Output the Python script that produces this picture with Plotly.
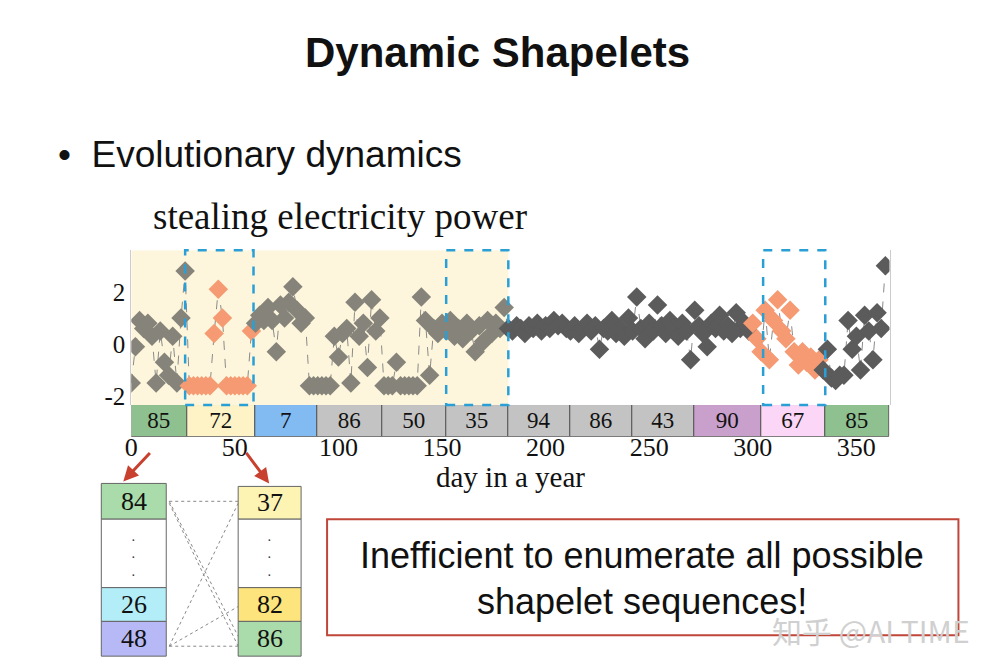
import plotly.graph_objects as go

W, H = 997, 672

# time series segments (day step 2)
olive_a_days = list(range(0, 28, 2))
olive_a = [-1.5, -0.1, 0.9, 0.6, 0.8, 0.3, -1.5, 0.5, -0.7, -1.2, 0.3, -1.5, 1.0, 2.8]
orange_a_days = list(range(28, 60, 2))
orange_a = [-1.6, -1.6, -1.6, -1.6, -1.6, -1.6, 0.4, 2.1, 1.0, -1.6, -1.6, -1.6, -1.6, -1.6, -1.6, 0.5]
olive_b_days = list(range(60, 182, 2))
olive_b = [0.8, 1.1, 0.9, 1.4, 0.9, -0.3, 1.5, 1.0, 1.6, 2.2, 1.3, 0.8, 1.0, -1.6, -1.6, -1.6,
           -1.6, -1.6, -1.6, 0.3, -0.5, 0.4, 0.6, -1.5, 1.6, 0.3, 0.8, -0.9, 1.7, 0.5, 1.0, -1.6,
           -1.6, -1.6, -0.7, -1.6, -1.6, -1.6, -1.6, -1.6, 1.8, 0.9, -1.2, 0.6, 0.4, 0.8,
           0.5, 0.9, 0.3, 0.6, 0.2, 0.8, 0.5, -0.3, 0.7, 0.1, 0.9, 0.4, 0.8, 0.6, 1.4]
dark_a_days = list(range(182, 300, 2))
dark_a = [0.6, 0.5, 0.7, 0.6, 0.4, 0.7, 0.6, 0.8, 0.5, 0.7, 0.6, 0.9, 0.7, 0.8, 0.6, 0.5,
          0.7, 0.4, 0.6, 0.8, 0.5, 0.7, -0.2, 0.6, 0.5, 0.9, 0.4, 0.6, 0.3, 1.0, 0.5, 1.8,
          0.6, 0.2, 0.8, 0.5, 1.5, 0.7, 0.4, 0.9, 0.6, 0.3, 0.8, 0.5, -0.6, 1.3, 0.7, 0.4,
          -0.1, 0.8, 0.6, 1.1, 0.5, 0.7, 0.4, 1.2, 0.6, 0.8, 0.5]
orange_b_days = list(range(300, 334, 2))
orange_b = [0.8, 0.2, -0.3, 1.3, -0.6, 0.9, 1.7, 0.5, 0.2, 1.3, -0.3, -0.8, -0.3, -0.7, -0.5, -1.0, -0.6]
dark_b_days = list(range(334, 366, 2))
dark_b = [-1.0, -0.2, -1.3, -1.4, -1.2, -1.2, 0.9, -0.2, 0.3, -1.0, 1.1, 0.5, -0.6, 1.2, 0.6, 3.0]

# shapelet strip
seg_edges = [0, 27, 60, 90, 121, 152, 182, 212, 242, 272, 304, 335, 366]
seg_labels = ["85", "72", "7", "86", "50", "35", "94", "86", "43", "90", "67", "85"]
seg_colors = ["#8fc08f", "#fdf3c6", "#82baf2", "#c3c3c3", "#c3c3c3", "#c3c3c3", "#c3c3c3",
              "#c3c3c3", "#c3c3c3", "#c9a0cb", "#fbd6f6", "#8fc08f"]
boxes = [(26, 59), (152, 182), (305, 335)]

x_ticks = [0, 50, 100, 150, 200, 250, 300, 350]
y_ticks = [-2, 0, 2]
y_tick_text = ["-2", "0", "2"]

left_vals = ["84", "26", "48"]
left_cols = ["#a9dcaa", "#b3eef8", "#b6b9f6"]
right_vals = ["37", "82", "86"]
right_cols = ["#fdf4b4", "#fde47c", "#a9dcaa"]


# target pixel -> paper, corrected for the page offset seen in the render
def px(x):
    return (x - 13.6) / 0.994 / W


def py(y):
    return 1 - (y - 5) / H


serif = "Liberation Serif"
sans = "Liberation Sans"

groups = [(olive_a_days, olive_a, "#86847a"), (orange_a_days, orange_a, "#f59a72"),
          (olive_b_days, olive_b, "#86847a"), (dark_a_days, dark_a, "#5b5b5b"),
          (orange_b_days, orange_b, "#f59a72"), (dark_b_days, dark_b, "#5b5b5b")]
all_x, all_y, all_c = [], [], []
for d, v, c in groups:
    all_x += d
    all_y += v
    all_c += [c] * len(d)

fig = go.Figure()
fig.add_trace(go.Scatter(x=all_x, y=all_y, mode="lines+markers",
                         line=dict(color="#8a8a8a", width=1, dash="dash"),
                         marker=dict(symbol="diamond", size=15, color=all_c),
                         showlegend=False))

centers = [(seg_edges[i] + seg_edges[i + 1]) / 2 for i in range(len(seg_labels))]
widths = [seg_edges[i + 1] - seg_edges[i] for i in range(len(seg_labels))]
fig.add_trace(go.Bar(x=centers, y=[1] * len(centers), width=widths,
                     marker=dict(color=seg_colors, line=dict(color="#555", width=1)),
                     text=seg_labels, textposition="inside", insidetextanchor="middle",
                     textfont=dict(family=serif, size=23, color="#111"),
                     yaxis="y2", showlegend=False))

shapes = [dict(type="rect", xref="x", yref="y", x0=0, x1=182, y0=-2.34, y1=3.6,
               fillcolor="#fdf6dc", line_width=0, layer="below")]
for a, b in boxes:
    shapes.append(dict(type="rect", xref="x", yref="paper", x0=a, x1=b, y0=py(405), y1=py(249),
                       line=dict(color="#2a9fd6", width=2.5, dash="dash")))


def label(x, y, t, family, size, color, xanchor="center"):
    fig.add_annotation(x=px(x), y=py(y), xref="paper", yref="paper", text=t, showarrow=False,
                       xanchor=xanchor, yanchor="middle", font=dict(family=family, size=size, color=color))


# left/right columns
def col(x0, x1, vals, cols, top):
    rows = [(top, 520, vals[0], cols[0]), (520, 589, None, "white"),
            (589, 623, vals[1], cols[1]), (623, 658, vals[2], cols[2])]
    for y0, y1, t, c in rows:
        shapes.append(dict(type="rect", xref="paper", yref="paper", x0=px(x0), x1=px(x1),
                           y0=py(y1), y1=py(y0), fillcolor=c, line=dict(color="#666", width=1)))
        if t:
            label((x0 + x1) / 2, (y0 + y1) / 2, t, serif, 26, "#111")
        else:
            for yy in (541, 559, 577):
                label((x0 + x1) / 2, yy, "·", serif, 14, "#333")


col(100, 165, left_vals, left_cols, 484)
col(237, 300, right_vals, right_cols, 487)

for (x0, y0), (x1, y1) in [((168, 502), (237, 502)), ((168, 502), (237, 638)), ((168, 504), (237, 648)),
                           ((168, 648), (237, 504)), ((168, 648), (237, 608)), ((168, 648), (237, 648))]:
    shapes.append(dict(type="line", xref="paper", yref="paper", x0=px(x0), y0=py(y0), x1=px(x1), y1=py(y1),
                       line=dict(color="#888", width=1, dash="dot")))

shapes.append(dict(type="rect", xref="paper", yref="paper", x0=px(326), x1=px(958), y0=py(637), y1=py(520),
                   line=dict(color="#c0463a", width=2)))

for (x0, y0), (x1, y1) in [((150, 452), (122, 482)), ((244, 452), (268, 484))]:
    fig.add_annotation(x=px(x1), y=py(y1), ax=x0 - x1, ay=y0 - y1, xref="paper", yref="paper",
                       text="", showarrow=True, arrowhead=2,
                       arrowsize=1, arrowwidth=3, arrowcolor="#c8402e")

label(497, 50, "<b>Dynamic Shapelets</b>", sans, 42, "#111")
label(55, 153, "•  Evolutionary dynamics", sans, 37, "#111", "left")
label(150, 215, "stealing electricity power", serif, 37, "#111", "left")
label(510, 478, "day in a year", serif, 29, "#111")
label(641, 557, "Inefficient to enumerate all possible", sans, 36, "#111")
label(641, 603, "shapelet sequences!", sans, 36, "#111")
label(870, 632, "知乎 @AI TIME", "Noto Sans CJK SC", 30, "#d0d0d0")

fig.update_layout(
    width=W, height=H, margin=dict(l=0, r=0, t=0, b=0),
    paper_bgcolor="white", plot_bgcolor="rgba(0,0,0,0)", shapes=shapes, bargap=0,
    xaxis=dict(domain=[px(130), px(889)], range=[0, 366], anchor="y2",
               tickvals=x_ticks, showgrid=False, zeroline=False,
               tickfont=dict(family=serif, size=26, color="#111"), ticks="", ticklabelstandoff=-8),
    yaxis=dict(domain=[py(405), py(249)], range=[-2.34, 3.6], tickvals=y_ticks, ticktext=y_tick_text,
               showgrid=False, zeroline=False, showline=True, mirror=True, linecolor="#ccc",
               tickfont=dict(family=serif, size=25, color="#111")),
    yaxis2=dict(domain=[py(437), py(405)], range=[0, 1], visible=False),
)

fig.write_html("out.html")
